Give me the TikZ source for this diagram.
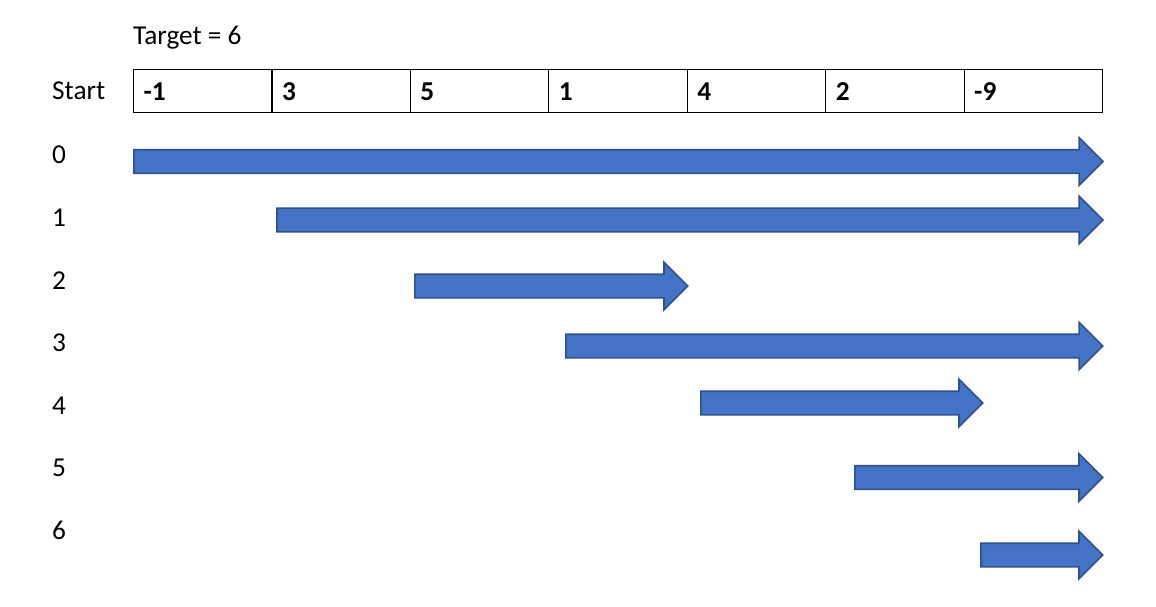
\documentclass[tikz,border=0pt]{standalone}
\usepackage{fontspec}
\setmainfont{Carlito}
\usetikzlibrary{shapes.arrows}
\begin{document}
\begin{tikzpicture}[x=1pt,y=-1pt,
  lbl/.style={anchor=base west,inner sep=0pt,font=\fontsize{27.3}{30}\selectfont},
  cell/.style={draw=black,line width=1.2pt,anchor=north west,minimum width=138.43pt,minimum height=43pt,
    text width=118.43pt,inner xsep=10pt,inner ysep=0pt,align=left,text height=19pt,text depth=0pt,
    font=\fontsize{27.3}{30}\selectfont\bfseries},
  blockarrow/.style={single arrow,draw=arrowedge,fill=arrowfill,line width=1.6pt,
    single arrow head extend=12pt,single arrow tip angle=90,inner xsep=0pt,inner ysep=11pt,
    minimum width=47pt,anchor=west,shape border rotate=0}]
\definecolor{arrowfill}{HTML}{4472C4}
\definecolor{arrowedge}{HTML}{2F528F}
\useasboundingbox (0,0) rectangle (1156,607);
\node[lbl] (target) at (133,45) {Target = 6};
\node[lbl] (start) at (52,100) {Start};
\foreach \v [count=\i from 0] in {-1,3,5,1,4,2,-9} {
  \node[cell] (c\i) at ({133+\i*138.43},69) {\v};
}
\foreach \r/\yc in {0/155,1/217,2/280,3/342,4/405,5/467,6/530} {
  \node[lbl] (r\r) at (52,{\yc+9}) {\r};
}
\node[blockarrow,minimum height=969pt] (a0) at (133,161.5) {};
\node[blockarrow,minimum height=826pt] (a1) at (276,220) {};
\node[blockarrow,minimum height=273pt] (a2) at (414,286) {};
\node[blockarrow,minimum height=537pt] (a3) at (565,346) {};
\node[blockarrow,minimum height=282pt] (a4) at (700,403) {};
\node[blockarrow,minimum height=248pt] (a5) at (854,477.5) {};
\node[blockarrow,minimum height=122pt] (a6) at (980,555) {};
\end{tikzpicture}
\end{document}
